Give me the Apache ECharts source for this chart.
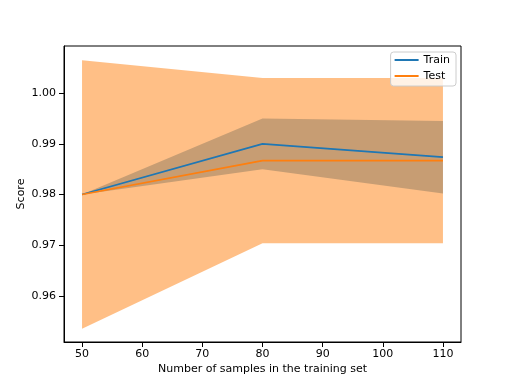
<!DOCTYPE html>
<html>
<head>
<meta charset="utf-8">
<script src="https://cdn.jsdelivr.net/npm/echarts@6/dist/echarts.min.js"></script>
<style>html,body{margin:0;padding:0;background:#fff}#c{width:512px;height:384px}</style>
</head>
<body>
<div id="c"></div>
<script>
const sizes = [50, 80, 110];
const trainMean = [0.98, 0.99, 0.98736];
const trainStd = [0.0, 0.005, 0.00716];
const testMean = [0.98, 0.98667, 0.98667];
const testStd = [0.0265, 0.0163, 0.0163];
const xTicks = [50, 60, 70, 80, 90, 100, 110];
const yTicks = [0.96, 0.97, 0.98, 0.99, 1.00];

const pairs = (arr) => sizes.map((s, i) => [s, arr[i]]);
const bandRows = (m, s) => sizes.map((x, i) => [x, m[i] - s[i], m[i] + s[i]]);

const font = 'DejaVu Sans';
const chart = echarts.init(document.getElementById('c'), null, {renderer: 'canvas'});

const band = (name, rows, color) => ({
  name, type: 'custom', silent: true, z: 1,
  data: rows,
  encode: {x: 0, y: [1, 2]},
  clip: true,
  renderItem: (params, api) => {
    if (params.dataIndex !== 0) return null;
    const up = rows.map(r => api.coord([r[0], r[2]]));
    const lo = rows.map(r => api.coord([r[0], r[1]])).reverse();
    return {
      type: 'polygon',
      shape: {points: up.concat(lo)},
      style: {fill: color, opacity: 0.5, stroke: null}
    };
  }
});

chart.setOption({
  animation: false,
  grid: {left: 64, right: 51, top: 46, bottom: 42, show: true, borderColor: '#000', borderWidth: 1, backgroundColor: 'transparent'},
  legend: {
    data: [{name: 'Train', icon: 'rect'}, {name: 'Test', icon: 'rect'}],
    orient: 'vertical', right: 56, top: 52,
    itemWidth: 24, itemHeight: 2, itemGap: 4,
    backgroundColor: 'rgba(255,255,255,0.8)', borderColor: '#cccccc', borderWidth: 1, borderRadius: 3,
    padding: [2, 6, 4, 4],
    textStyle: {fontFamily: font, fontSize: 11, lineHeight: 12, color: '#000'}
  },
  xAxis: {
    type: 'value', min: 47, max: 113,
    name: 'Number of samples in the training set', nameLocation: 'middle', nameGap: 22,
    nameMoveOverlap: false,
    nameTextStyle: {fontFamily: font, fontSize: 11, color: '#000'},
    axisLine: {show: true, lineStyle: {color: '#000', width: 1}},
    axisTick: {show: true, inside: false, length: 5, customValues: xTicks, lineStyle: {color: '#000'}},
    axisLabel: {customValues: xTicks, fontFamily: font, fontSize: 11, color: '#000', margin: 7},
    splitLine: {show: false}
  },
  yAxis: {
    type: 'value', min: 0.9509, max: 1.0093,
    name: 'Score', nameLocation: 'middle', nameGap: 37,
    nameMoveOverlap: false,
    nameTextStyle: {fontFamily: font, fontSize: 11, color: '#000'},
    axisLine: {show: true, lineStyle: {color: '#000', width: 1}},
    axisTick: {show: true, inside: false, length: 5, customValues: yTicks, lineStyle: {color: '#000'}},
    axisLabel: {customValues: yTicks, fontFamily: font, fontSize: 11, color: '#000', margin: 8,
      formatter: v => v.toFixed(2)},
    splitLine: {show: false}
  },
  series: [
    band('trainBand', bandRows(trainMean, trainStd), '#1f77b4'),
    band('testBand', bandRows(testMean, testStd), '#ff7f0e'),
    {name: 'Train', type: 'line', data: pairs(trainMean), symbol: 'none', color: '#1f77b4',
      lineStyle: {width: 1.7, color: '#1f77b4'}, z: 5},
    {name: 'Test', type: 'line', data: pairs(testMean), symbol: 'none', color: '#ff7f0e',
      lineStyle: {width: 1.7, color: '#ff7f0e'}, z: 5}
  ]
});
</script>
</body>
</html>
